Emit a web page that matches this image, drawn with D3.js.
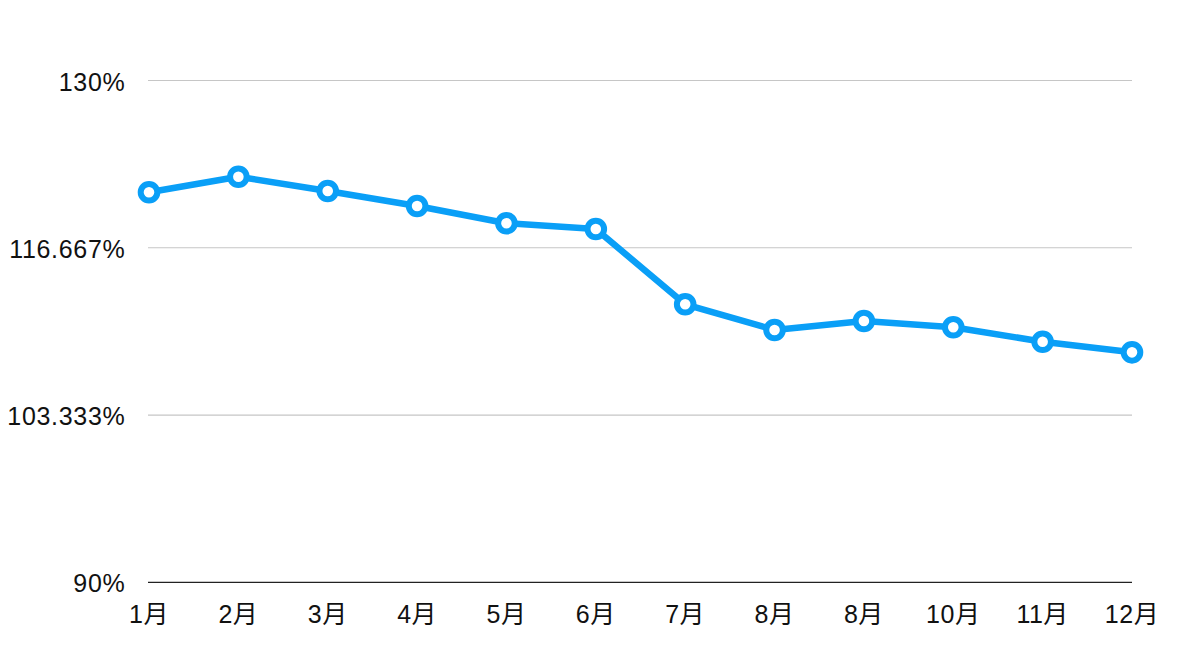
<!DOCTYPE html>
<html>
<head>
<meta charset="utf-8">
<script src="https://cdn.jsdelivr.net/npm/d3@7"></script>
<style>
  html, body { margin: 0; padding: 0; background: #fff; }
  svg { display: block; }
  text { font-family: "Liberation Sans", Arial, "Noto Sans CJK JP", sans-serif; fill: #111; }
</style>
</head>
<body>
<svg id="chart" width="1200" height="663"></svg>
<script>
const categories = ["1月","2月","3月","4月","5月","6月","7月","8月","8月","10月","11月","12月"];
const values = [121.09, 122.33, 121.19, 120.0, 118.62, 118.16, 112.16, 110.11, 110.83, 110.33, 109.18, 108.33];
const yTickValues = [90, 103.333, 116.667, 130];
const yTickLabels = ["90%", "103.333%", "116.667%", "130%"];

(function () {
const svg = d3.select("#chart");
const plotLeft = 149, plotRight = 1132, plotTop = 80.5, plotBottom = 582.3;

const x = d3.scaleLinear().domain([0, categories.length - 1]).range([plotLeft, plotRight]);
const y = d3.scaleLinear().domain([90, 130]).range([plotBottom, plotTop]);

// gridlines
svg.append("g")
  .selectAll("line")
  .data(yTickValues.slice(1))
  .join("line")
  .attr("x1", plotLeft - 1).attr("x2", plotRight)
  .attr("y1", d => y(d)).attr("y2", d => y(d))
  .attr("stroke", "#c6c6c6").attr("stroke-width", 1.2);

// baseline
svg.append("line")
  .attr("x1", plotLeft - 1).attr("x2", plotRight)
  .attr("y1", y(90)).attr("y2", y(90))
  .attr("stroke", "#222").attr("stroke-width", 1.3);

// y labels
svg.append("g")
  .selectAll("text")
  .data(yTickValues)
  .join("text")
  .attr("x", 125.5)
  .attr("y", d => y(d) + 10)
  .attr("text-anchor", "end")
  .attr("font-size", 25)
  .attr("letter-spacing", 0.7)
  .text((d, i) => yTickLabels[i]);

// x labels
svg.append("g")
  .selectAll("text")
  .data(categories)
  .join("text")
  .attr("x", (d, i) => x(i))
  .attr("y", 623)
  .attr("text-anchor", "middle")
  .attr("font-size", 25)
  .attr("letter-spacing", 0.5)
  .text(d => d);

const color = "#0a9ff7";
const line = d3.line().x((d, i) => x(i)).y(d => y(d));

svg.append("path")
  .datum(values)
  .attr("d", line)
  .attr("fill", "none")
  .attr("stroke", color)
  .attr("stroke-width", 6.5)
  .attr("stroke-linejoin", "round");

svg.append("g")
  .selectAll("circle")
  .data(values)
  .join("circle")
  .attr("cx", (d, i) => x(i))
  .attr("cy", d => y(d))
  .attr("r", 8.3)
  .attr("fill", "#fff")
  .attr("stroke", color)
  .attr("stroke-width", 6);
})();
</script>
</body>
</html>
